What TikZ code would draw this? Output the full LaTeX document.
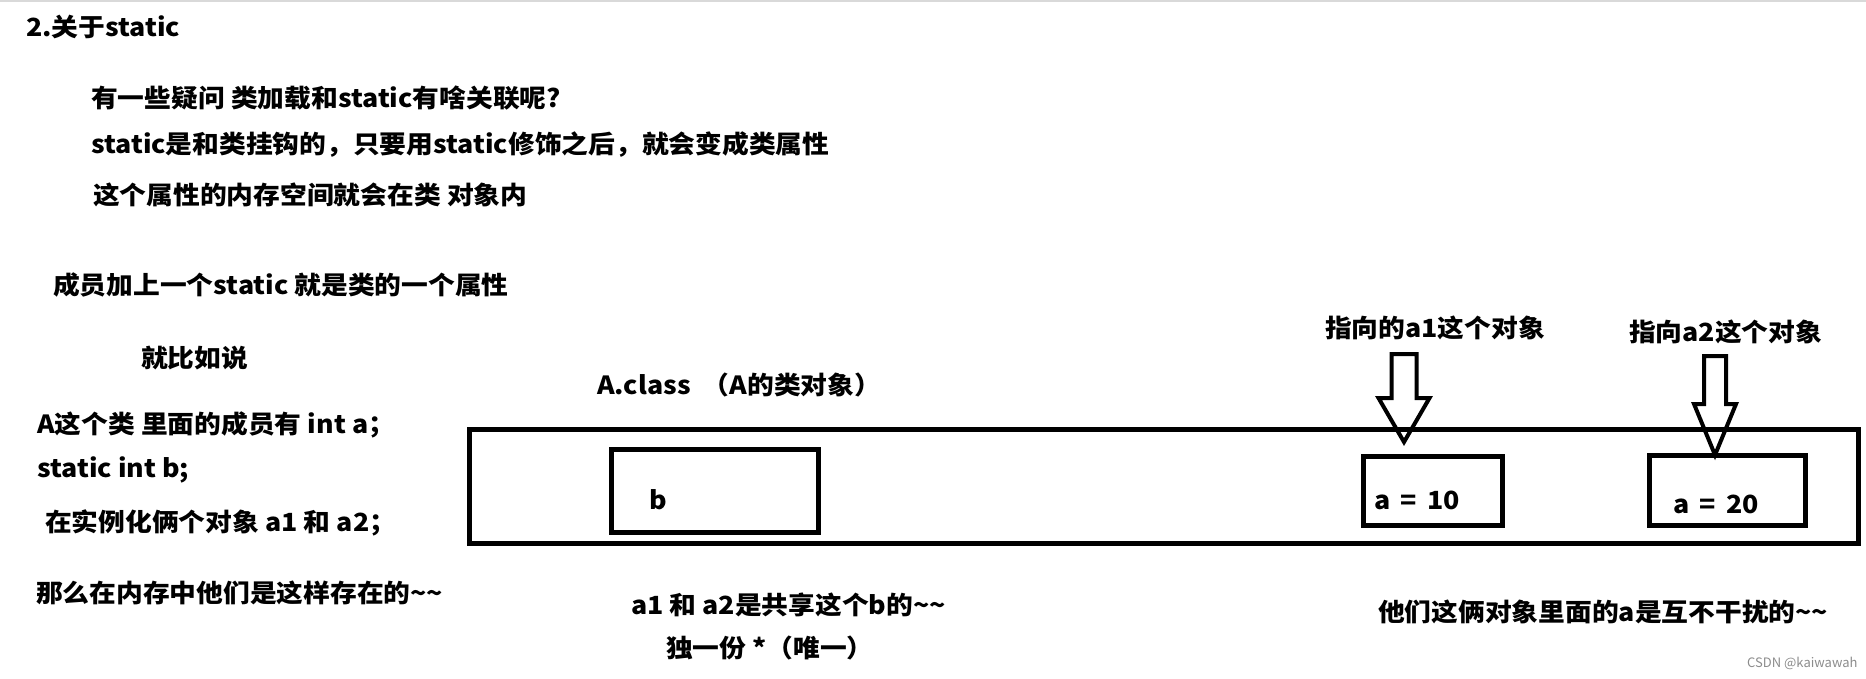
\documentclass[tikz,border=0pt]{standalone}
\usepackage{fontspec}
\setmainfont{Noto Sans CJK SC}[FakeStretch=1.07]
\newfontfamily\markfont{Noto Sans CJK SC}
\begin{document}
\begin{tikzpicture}[x=1pt, y=-1pt,
        txt/.style={anchor=west, inner sep=0pt, font=\fontsize{25}{30}\selectfont\bfseries},
        memrect/.style={draw, line width=5pt, inner sep=0pt, anchor=north west},
        blockarrow/.style={draw, line width=4pt, line join=miter}
    ]
    \useasboundingbox (0,0) rectangle (1866,678);
    \draw[black!15, line width=2pt] (0,1) -- (1866,1);

    % notes on the left
    \node[txt] (title) at (26,27) {2.关于static};
    \node[txt] (q1) at (91,98) {有一些疑问 类加载和static有啥关联呢?};
    \node[txt] (q2) at (91,145) {static是和类挂钩的，只要用static修饰之后，就会变成类属性};
    \node[txt] (q3) at (93,195) {这个属性的内存空间就会在类 对象内};
    \node[txt] (member) at (53,285) {成员加上一个static 就是类的一个属性};
    \node[txt] (example) at (141,358) {就比如说};
    \node[txt] (fieldA) at (37,425) {A这个类 里面的成员有 int a；};
    \node[txt] (fieldB) at (37,470) {static int b;};
    \node[txt] (objs) at (45,523) {在实例化俩个对象 a1 和 a2；};
    \node[txt] (mem) at (36,593) {那么在内存中他们是这样存在的\textasciitilde\textasciitilde};

    % memory of A.class
    \node[txt] (cls) at (597,385) {A.class \ （A的类对象）};
    \node[memrect, minimum width=1389pt, minimum height=114pt] (classobj) at (467,427) {};
    \node[memrect, minimum width=207pt, minimum height=83pt] (bbox) at (609,447) {};
    \node[memrect, minimum width=139pt, minimum height=69pt] (aone) at (1361,454) {};
    \node[memrect, minimum width=156pt, minimum height=70pt] (atwo) at (1647,453) {};
    \node[txt] (bval) at (649,500) {b};
    \node[txt] (aoneval) at (1374,500) {a \,=\, 10};
    \node[txt] (atwoval) at (1673,504) {a \,=\, 20};

    % pointers
    \node[txt] (ptrone) at (1325,328) {指向的a1这个对象};
    \node[txt] (ptrtwo) at (1629,332) {指向a2这个对象};
    \coordinate (tipone) at (1404,442);
    \coordinate (tiptwo) at (1715,455);
    \draw[blockarrow] (tipone) -- ++(-25.5,-44) -- ++(13,0) -- ++(0,-44) -- ++(25,0) -- ++(0,44) -- ++(13,0) -- cycle;
    \draw[blockarrow] (tiptwo) -- ++(-21,-51) -- ++(10,0) -- ++(0,-48) -- ++(22,0) -- ++(0,48) -- ++(10,0) -- cycle;

    % remarks below
    \node[txt] (shared) at (631,605) {a1 和 a2是共享这个b的\textasciitilde\textasciitilde};
    \node[txt] (unique) at (666,648) {独一份 *（唯一）};
    \node[txt] (apart) at (1378,612) {他们这俩对象里面的a是互不干扰的\textasciitilde\textasciitilde};
    \node[anchor=west, inner sep=0pt, text=black!45, font=\markfont\fontsize{13}{15}\selectfont] (mark) at (1747,663) {CSDN @kaiwawah};
\end{tikzpicture}
\end{document}
